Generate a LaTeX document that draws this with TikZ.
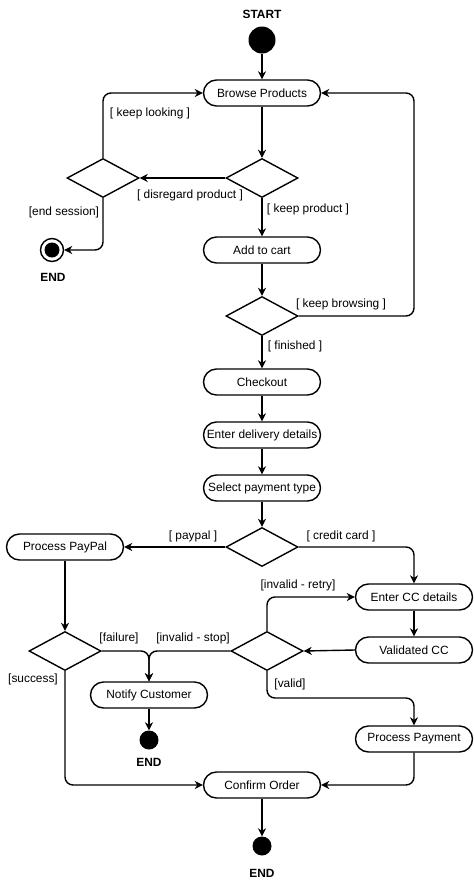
\documentclass[tikz,border=0pt]{standalone}
\usepackage{fontspec}
\setmainfont{Liberation Sans}
\usetikzlibrary{shapes.geometric,arrows.meta}
\begin{document}
\begin{tikzpicture}[x=1pt,y=-1pt,
  every node/.style={font=\fontsize{11.9}{13}\selectfont},
  act/.style={draw,line width=1.4pt,rectangle,rounded corners=13pt,minimum width=117pt,minimum height=26pt,inner sep=0pt},
  dec/.style={draw,line width=1.4pt,diamond,minimum width=72pt,minimum height=39pt,inner sep=0pt},
  startdot/.style={circle,fill=black,minimum size=27pt,inner sep=0pt},
  enddot/.style={circle,fill=black,minimum size=19pt,inner sep=0pt},
  endring/.style={circle,draw,line width=1.4pt,minimum size=23pt,inner sep=0pt,path picture={\fill (path picture bounding box.center) circle (7.5pt);}},
  flow/.style={draw,line width=1.4pt,rounded corners=8pt,-{Stealth[length=8pt,width=8pt,inset=2.5pt]}},
  lbl/.style={inner sep=0pt},
  ttl/.style={inner sep=0pt,font=\fontsize{11.9}{13}\selectfont\bfseries}
]
\useasboundingbox (0,0) rectangle (474,887);

% nodes
\node[ttl] (tstart) at (262,14) {START};
\node[startdot] (start) at (262,40) {};
\node[act] (browse) at (262,93) {Browse Products};
\node[dec] (d1) at (262,178) {};
\node[dec] (d2) at (103,178) {};
\node[endring] (end1) at (52,250) {};
\node[ttl] (tend1) at (53,277) {END};
\node[act] (cart) at (262,250) {Add to cart};
\node[dec] (d3) at (262,316) {};
\node[act] (checkout) at (262,382) {Checkout};
\node[act] (delivery) at (262,435) {Enter delivery details};
\node[act] (paytype) at (262,488) {Select payment type};
\node[dec] (d4) at (262,547) {};
\node[act] (paypal) at (65,547) {Process PayPal};
\node[act] (entercc) at (414,597) {Enter CC details};
\node[act] (validcc) at (414,650) {Validated CC};
\node[dec] (d5) at (267,651) {};
\node[dec] (d6) at (65,651) {};
\node[act] (notify) at (149,695) {Notify Customer};
\node[enddot] (end2) at (149,740) {};
\node[ttl] (tend2) at (149,762) {END};
\node[act] (procpay) at (414,739) {Process Payment};
\node[act] (confirm) at (262,785) {Confirm Order};
\node[enddot] (end3) at (262,846) {};
\node[ttl] (tend3) at (262,873) {END};

\coordinate (kb) at (414,93);
\coordinate (vbend) at (267,698);

% labels
\node[lbl] (lkeeplook) at (150,113) {[ keep looking ]};
\node[lbl] (ldisreg) at (190,195) {[ disregard product ]};
\node[lbl] (lendsess) at (64,212) {[end session]};
\node[lbl] (lkeepprod) at (308,209) {[ keep product ]};
\node[lbl] (lkeepbrow) at (341,304) {[ keep browsing ]};
\node[lbl] (lfinished) at (295,346) {[ finished ]};
\node[lbl] (lpaypal) at (193,536) {[ paypal ]};
\node[lbl] (lcredit) at (341,536) {[ credit card ]};
\node[lbl] (lretry) at (298,585) {[invalid - retry]};
\node[lbl] (lfailure) at (119,638) {[failure]};
\node[lbl] (lstop) at (193,638) {[invalid - stop]};
\node[lbl] (lsuccess) at (33,679) {[success]};
\node[lbl] (lvalid) at (290,684) {[valid]};

% connectors
\path[flow] (start) -- (browse);
\path[flow] (browse) -- (d1);
\path[flow] (d1.west) -- (d2.east);
\path[flow] (d2.north) |- (browse.west);
\path[flow] (d2.south) |- (end1.east);
\path[flow] (d1.south) -- (cart);
\path[flow] (cart) -- (d3);
\path[flow] (d3.east) -| (kb) -- (browse.east);
\path[flow] (d3.south) -- (checkout);
\path[flow] (checkout) -- (delivery);
\path[flow] (delivery) -- (paytype);
\path[flow] (paytype) -- (d4);
\path[flow] (d4.west) -- (paypal.east);
\path[flow] (d4.east) -| (entercc.north);
\path[flow] (entercc) -- (validcc);
\path[flow] (validcc.west) -- (d5.east);
\path[flow] (d5.north) |- (entercc.west);
\path[flow] (d5.west) -| (notify.north);
\path[flow] (d6.east) -| (notify.north);
\path[flow] (paypal) -- (d6);
\path[flow] (d6.south) |- (confirm.west);
\path[flow] (d5.south) -- (vbend) -| (procpay.north);
\path[flow] (procpay.south) |- (confirm.east);
\path[flow] (notify) -- (end2);
\path[flow] (confirm) -- (end3);
\end{tikzpicture}
\end{document}
